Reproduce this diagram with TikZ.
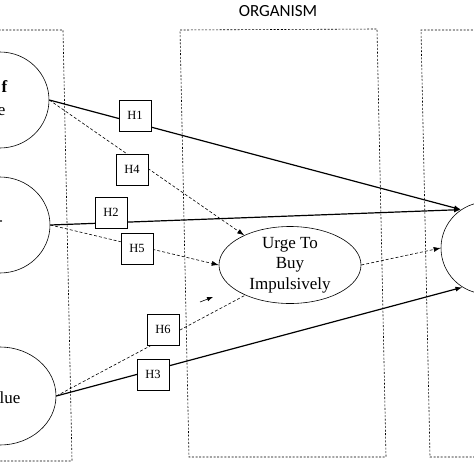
\documentclass[tikz,border=0pt]{standalone}
\usepackage{fontspec}
\setmainfont{Liberation Serif}
\newfontfamily\orgfont{Carlito}
\usetikzlibrary{arrows.meta,shapes.geometric}

\begin{document}
\begin{tikzpicture}[x=1pt, y=-1pt,
    construct/.style={ellipse, draw, line width=0.6pt, inner sep=0pt, fill=white},
    hyp/.style={rectangle, draw, fill=white, line width=0.6pt, minimum width=32pt, minimum height=31pt, inner sep=0pt, font=\fontsize{12.5}{15}\selectfont},
    stage/.style={line width=0.6pt, dash pattern=on 2pt off 1.6pt},
    direct/.style={-{Latex[length=7pt,width=5pt]}, line width=1.2pt},
    indirect/.style={-{Latex[length=7pt,width=5pt]}, line width=0.6pt, dash pattern=on 3pt off 2pt},
]
\useasboundingbox (0,0) rectangle (474,474);
\clip (0,0) rectangle (474,474);

% Stage frames
\draw[stage] (-5,30) -- (63,30) -- (72,461) -- (-5,461);
\draw[stage] (180,30) -- (377,29) -- (386,457) -- (189,457) -- cycle;
\draw[stage] (480,30) -- (421,30) -- (430,457) -- (480,457);
\node[font=\orgfont\fontsize{17}{20}\selectfont, anchor=base] (organism) at (278,16) {ORGANISM};

% Stimulus
\node[construct, minimum width=98pt, minimum height=96pt] (stim1) at (0,100) {};
\node[construct, minimum width=100pt, minimum height=96pt] (stim2) at (0,225) {};
\node[construct, minimum width=112pt, minimum height=98pt] (stim3) at (0,396) {};
\node[font=\fontsize{17}{20}\selectfont\bfseries, anchor=base east, inner sep=0pt] (stim1_a) at (7.5,92) {f};
\node[font=\fontsize{17}{20}\selectfont, anchor=base east, inner sep=0pt] (stim1_b) at (5.5,115) {e};
\node[font=\fontsize{17}{20}\selectfont, anchor=base east, inner sep=0pt] (stim2_a) at (3,225) {-};
\node[font=\fontsize{17}{20}\selectfont, anchor=base west, inner sep=0pt] (stim3_a) at (-0.5,403) {lue};

% Organism
\node[construct, minimum width=142pt, minimum height=77pt] (urge) at (290,265) {};
\node[align=center, font=\fontsize{17}{20.5}\selectfont, inner sep=0pt] (urge_txt) at (urge.center) {Urge To\\Buy\\Impulsively};

% Response
\node[construct, minimum width=92pt, minimum height=92pt] (resp) at (487,248) {};

% Direct paths
\draw[direct] (stim1.east) -- (resp.124);
\draw[direct] (stim2.east) -- (resp.124);
\draw[direct] (stim3.east) -- (resp.238);

% Mediated paths
\draw[indirect] (stim1.east) -- (urge.147);
\draw[indirect] (stim2.east) -- (urge.west);
\draw[stage, dash pattern=on 3pt off 2pt] (stim3.east) -- (urge.214);
\draw[indirect] (urge.east) -- (resp.west);
\coordinate (h6_tail) at (200,302);
\coordinate (h6_tip) at (213,297);
\draw[-{Latex[length=6pt,width=4.5pt]}, line width=0.6pt] (h6_tail) -- (h6_tip);

% Hypotheses
\node[hyp] (h1) at (135,115.5) {H1};
\node[hyp] (h4) at (132,169.5) {H4};
\node[hyp] (h2) at (111,212.5) {H2};
\node[hyp] (h5) at (137,248.5) {H5};
\node[hyp] (h6) at (163,329.5) {H6};
\node[hyp] (h3) at (153,374.5) {H3};

\end{tikzpicture}
\end{document}
